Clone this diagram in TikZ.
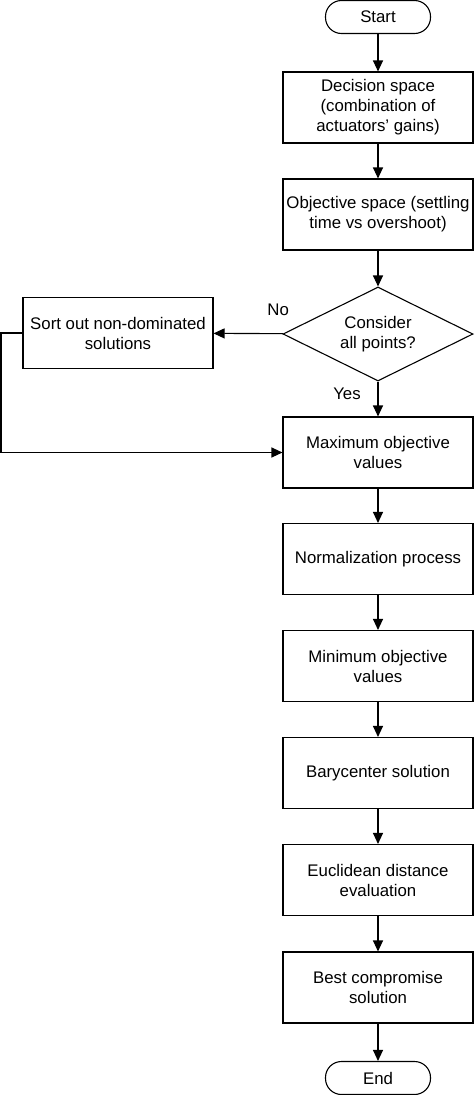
\documentclass[tikz,border=0pt]{standalone}
\usepackage{fontspec}
\setmainfont{Liberation Sans}
\usetikzlibrary{shapes.geometric,arrows.meta}

\tikzset{
    stepbox/.style={draw, rectangle, line width=1.1pt, minimum width=190pt, minimum height=71pt, inner sep=0pt, align=center},
    termbox/.style={draw, rectangle, rounded corners=16pt, line width=1.1pt, minimum width=105pt, minimum height=33pt, inner sep=0pt},
    askbox/.style={draw, diamond, aspect=2, line width=1.1pt, minimum width=190pt, minimum height=94pt, inner sep=0pt, align=center},
    flow/.style={line width=1.1pt, -{Triangle[length=11pt,width=10pt]}}
}

\begin{document}
\begin{tikzpicture}[x=1pt,y=-1pt, font=\fontsize{16.8}{20}\selectfont]
    \useasboundingbox (0,0) rectangle (474,1095);

    \node [termbox] (start) at (378,17) {Start};
    \node [stepbox] (dec) at (378,107.5) {Decision space\\(combination of\\actuators' gains)};
    \node [stepbox] (obj) at (378,214.5) {Objective space (settling\\time vs overshoot)};
    \node [askbox] (ask) at (378,334) {Consider\\all points?};
    \node [stepbox] (sort) at (118,333) {Sort out non-dominated\\solutions};
    \node [stepbox] (maxv) at (378,452.5) {Maximum objective\\values};
    \node [stepbox] (norm) at (378,559) {Normalization process};
    \node [stepbox] (minv) at (378,666) {Minimum objective\\values};
    \node [stepbox] (bary) at (378,773) {Barycenter solution};
    \node [stepbox] (eucl) at (378,880) {Euclidean distance\\evaluation};
    \node [stepbox] (best) at (378,987.5) {Best compromise\\solution};
    \node [termbox] (end) at (378,1078) {End};

    \coordinate (bend) at (1,333);

    \draw [flow] (start) -- (dec);
    \draw [flow] (dec) -- (obj);
    \draw [flow] (obj) -- (ask);
    \draw [flow] (ask) -- node [pos=0, xshift=-31pt, yshift=-12pt] {Yes} (maxv);
    \draw [flow] (ask) -- node [pos=0, xshift=-5pt, yshift=24pt] {No} (sort);
    \draw [flow] (sort.west) -- (bend) |- (maxv.west);
    \draw [flow] (maxv) -- (norm);
    \draw [flow] (norm) -- (minv);
    \draw [flow] (minv) -- (bary);
    \draw [flow] (bary) -- (eucl);
    \draw [flow] (eucl) -- (best);
    \draw [flow] (best) -- (end);
\end{tikzpicture}
\end{document}
